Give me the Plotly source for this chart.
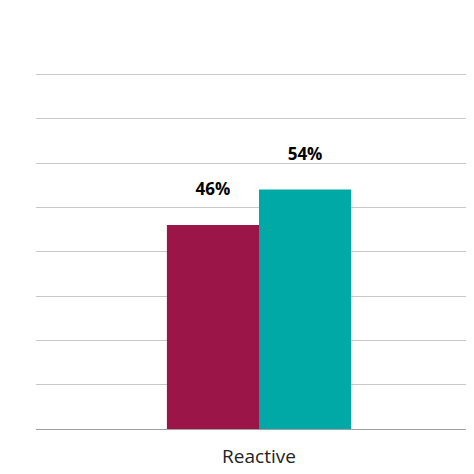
import plotly.graph_objects as go

categories = ["Reactive"]
series_a = [46]
series_b = [54]
labels_a = ["46%<br> "]
labels_b = ["54%<br> "]

fig = go.Figure()
fig.add_trace(go.Bar(x=categories, y=series_a, text=labels_a, marker_color="#9b1548",
                     textposition="outside", cliponaxis=False))
fig.add_trace(go.Bar(x=categories, y=series_b, text=labels_b, marker_color="#00a9a5",
                     textposition="outside", cliponaxis=False))
fig.update_traces(textfont=dict(size=17, color="black", family="Open Sans", weight="bold"),
                  marker_line_width=0)
fig.update_layout(
    width=474, height=474, barmode="group", bargap=0.587, bargroupgap=0,
    showlegend=False, plot_bgcolor="white", paper_bgcolor="white",
    margin=dict(l=28, r=0, t=22, b=53),
    font=dict(family="Open Sans", size=19, color="#222"),
    uniformtext=dict(minsize=17, mode="show"),
)
fig.update_yaxes(range=[0, 90], dtick=10, showticklabels=False, gridcolor="#c8c8c8",
                 gridwidth=1, zeroline=True, zerolinecolor="#a0a0a0", zerolinewidth=1)
fig.update_xaxes(showline=False, ticks="outside", ticklen=10, tickcolor="white")
fig.write_html("out.html")
